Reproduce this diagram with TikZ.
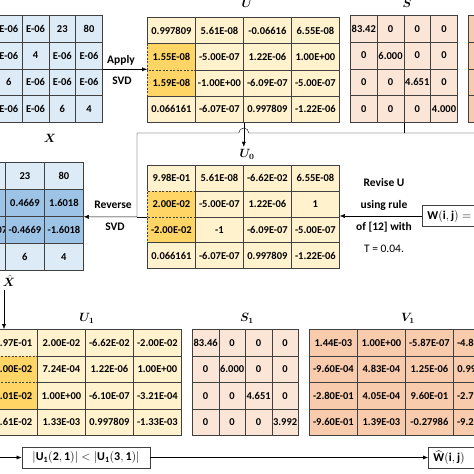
\documentclass[tikz,border=0pt]{standalone}
\usepackage{amsmath,bm}
\usepackage{fontspec}
\setmainfont{Carlito}
\usetikzlibrary{arrows.meta}

\definecolor{gridline}{rgb}{0.25,0.25,0.25}
\definecolor{xblue}{RGB}{221,235,247}
\definecolor{xdeep}{RGB}{157,195,230}
\definecolor{ucream}{RGB}{255,242,204}
\definecolor{ugold}{RGB}{255,214,102}
\definecolor{speach}{RGB}{251,229,214}
\definecolor{vorange}{RGB}{248,203,173}

% one row of a 4-column matrix: [style of first cell]{row}{a}{b}{c}{d}
\newcommand{\mrow}[6][]{%
  \node[cell,#1] (\mname-#2-0) at (0,#2*\rh) {#3};
  \node[cell] (\mname-#2-1) at (\cw,#2*\rh) {#4};
  \node[cell] (\mname-#2-2) at (2*\cw,#2*\rh) {#5};
  \node[cell] (\mname-#2-3) at (3*\cw,#2*\rh) {#6};
}

\tikzset{
  cell/.style={draw=gridline, line width=0.8pt, inner sep=0pt, anchor=north west,
    font=\bfseries\fontsize{10.5}{11}\selectfont},
  hot/.style={fill=ugold, dash pattern=on 2pt off 1.5pt},
  lab/.style={inner sep=0pt, font=\fontsize{12}{12}\selectfont},
  note/.style={inner sep=0pt, font=\bfseries\fontsize{11.5}{12}\selectfont},
  box/.style={draw=gridline, line width=0.8pt, minimum height=21pt, inner sep=3pt,
    font=\fontsize{12}{12}\selectfont},
  >={Latex[length=5pt,width=4pt]}
}

\begin{document}
\begin{tikzpicture}[x=1pt,y=-1pt]
    \useasboundingbox (0,0) rectangle (474,474);
    \clip (0,0) rectangle (474,474);

    % X
    \begin{scope}[shift={(-5,15)}, cell/.append style={minimum width=26.75pt, minimum height=26.75pt, fill=xblue}]
        \def\mname{x}\def\cw{26.75}\def\rh{26.75}
        \mrow{0}{E-06}{E-06}{23}{80}
        \mrow{1}{E-06}{4}{E-06}{E-06}
        \mrow{2}{6}{E-06}{E-06}{E-06}
        \mrow{3}{E-06}{E-06}{6}{4}
    \end{scope}

    % U
    \begin{scope}[shift={(147,17)}, cell/.append style={minimum width=48pt, minimum height=26.25pt, fill=ucream}]
        \def\mname{u}\def\cw{48}\def\rh{26.25}
        \mrow{0}{0.997809}{5.61E-08}{-0.06616}{6.55E-08}
        \mrow[hot]{1}{1.55E-08}{-5.00E-07}{1.22E-06}{1.00E+00}
        \mrow[hot]{2}{1.59E-08}{-1.00E+00}{-6.09E-07}{-5.00E-07}
        \mrow{3}{0.066161}{-6.07E-07}{0.997809}{-1.22E-06}
    \end{scope}

    % S
    \begin{scope}[shift={(350,15)}, cell/.append style={minimum width=26.75pt, minimum height=26.75pt, fill=speach}]
        \def\mname{s}\def\cw{26.75}\def\rh{26.75}
        \mrow{0}{83.42}{0}{0}{0}
        \mrow{1}{0}{6.000}{0}{0}
        \mrow{2}{0}{0}{4.651}{0}
        \mrow{3}{0}{0}{0}{4.000}
    \end{scope}

    % V (cut off)
    \begin{scope}[shift={(468,15)}, cell/.append style={minimum width=48pt, minimum height=26.75pt, fill=vorange}]
        \def\mname{v}\def\cw{48}\def\rh{26.75}
        \mrow{0}{}{}{}{}
        \mrow{1}{}{}{}{}
        \mrow{2}{}{}{}{}
        \mrow{3}{}{}{}{}
    \end{scope}

    % U0
    \begin{scope}[shift={(147,165)}, cell/.append style={minimum width=48pt, minimum height=25.75pt, fill=ucream}]
        \def\mname{uz}\def\cw{48}\def\rh{25.75}
        \mrow{0}{9.98E-01}{5.61E-08}{-6.62E-02}{6.55E-08}
        \mrow[hot]{1}{2.00E-02}{-5.00E-07}{1.22E-06}{1}
        \mrow[hot]{2}{-2.00E-02}{-1}{-6.09E-07}{-5.00E-07}
        \mrow{3}{0.066161}{-6.07E-07}{0.997809}{-1.22E-06}
    \end{scope}

    % X hat
    \begin{scope}[shift={(-73,162)}, cell/.append style={minimum width=39pt, minimum height=27pt, fill=xblue}]
        \def\mname{xh}\def\cw{39}\def\rh{27}
        \mrow{0}{}{}{23}{80}
        \begin{scope}[cell/.append style={fill=xdeep}]
            \mrow{1}{}{}{0.4669}{1.6018}
            \mrow{2}{}{-5.00E-07}{-0.4669}{-1.6018}
        \end{scope}
        \mrow{3}{}{}{6}{4}
    \end{scope}

    % U1
    \begin{scope}[shift={(-11,329)}, cell/.append style={minimum width=48pt, minimum height=26.5pt, fill=ucream}]
        \def\mname{ua}\def\cw{48}\def\rh{26.5}
        \mrow{0}{9.97E-01}{2.00E-02}{-6.62E-02}{-2.00E-02}
        \mrow[hot]{1}{2.00E-02}{7.24E-04}{1.22E-06}{1.00E+00}
        \mrow[hot]{2}{2.01E-02}{1.00E+00}{-6.10E-07}{-3.21E-04}
        \mrow{3}{6.61E-02}{1.33E-03}{0.997809}{-1.33E-03}
    \end{scope}

    % S1
    \begin{scope}[shift={(192,329)}, cell/.append style={minimum width=26.5pt, minimum height=26.5pt, fill=speach}]
        \def\mname{sa}\def\cw{26.5}\def\rh{26.5}
        \mrow{0}{83.46}{0}{0}{0}
        \mrow{1}{0}{6.000}{0}{0}
        \mrow{2}{0}{0}{4.651}{0}
        \mrow{3}{0}{0}{0}{3.992}
    \end{scope}

    % V1
    \begin{scope}[shift={(309,329)}, cell/.append style={minimum width=48pt, minimum height=26.5pt, fill=vorange}]
        \def\mname{va}\def\cw{48}\def\rh{26.5}
        \mrow{0}{1.44E-03}{1.00E+00}{-5.87E-07}{-4.83E-04}
        \mrow{1}{-9.60E-04}{4.83E-04}{1.25E-06}{0.999999}
        \mrow{2}{-2.80E-01}{4.05E-04}{9.60E-01}{-2.79E-04}
        \mrow{3}{-9.60E-01}{1.39E-03}{-0.27986}{-9.25E-04}
    \end{scope}

    % labels
    \node[lab] (ulab) at (247,3) {$\bm{U}$};
    \node[lab] (slab) at (407,3) {$\bm{S}$};
    \node[lab] (xlab) at (50,138) {$\bm{X}$};
    \node[lab] (uzlab) at (247,154) {$\bm{U_0}$};
    \node[lab] (xhlab) at (9,281) {$\bm{\hat{X}}$};
    \node[lab] (ualab) at (87,318) {$\bm{U_1}$};
    \node[lab] (salab) at (247,318) {$\bm{S_1}$};
    \node[lab] (valab) at (408,318) {$\bm{V_1}$};

    \node[note] (apply) at (121,60) {Apply};
    \node[note] (svda) at (122,81) {SVD};
    \node[note] (reverse) at (113,205) {Reverse};
    \node[note] (svdb) at (115,227) {SVD};
    \node[note] (revise) at (384,183) {Revise U};
    \node[note] (using) at (384,205) {using rule};
    \node[note] (ofrule) at (384,227) {of [12] with};
    \node[inner sep=0pt, font=\fontsize{11.5}{12}\selectfont] (thresh) at (384,249) {T = 0.04.};

    % boxes
    \node[box, anchor=west, minimum width=80pt, text width=70pt] (wbox) at (422,216) {$\mathbf{W(i,j)}=$};
    \node[box, minimum width=128pt] (cmp) at (86,457.5) {$|\mathbf{U_1(2,1)}|<|\mathbf{U_1(3,1)}|$};
    \node[box, anchor=west, minimum width=80pt, text width=70pt] (what) at (428,457.5) {$\widehat{\mathbf{W}}\mathbf{(i,j)}$};

    % connectors
    \coordinate (bus) at (474,133);
    \coordinate (corner) at (137,133);
    \coordinate (cin) at (0,457.5);
    \coordinate (xhdown) at (4,290);
    \draw[->] (x-1-3.south east) -- (x-1-3.south east -| u-1-0.west);
    \draw[->] (u-3-1.south east) -- ([yshift=2pt]u-3-1.south east |- uzlab.north);
    \draw (s-3-1.south east) -- (s-3-1.south east |- bus);
    \draw[->] (bus) -- ([xshift=5pt]u-3-1.south east |- bus) arc[start angle=0, end angle=180, radius=5pt]
        -- (corner) |- (xh-1-3.south east);
    \draw (uz-1-0.south west) -- (uz-1-0.south west -| corner);
    \draw[->] (wbox.west) -- (wbox.west -| uz-1-3.east);
    \draw[->] (xhdown) -- (xhdown |- ua-0-0.north);
    \draw[->] (cin) -- (cmp.west);
    \draw[->] (cmp.east) -- (what.west);
\end{tikzpicture}
\end{document}
